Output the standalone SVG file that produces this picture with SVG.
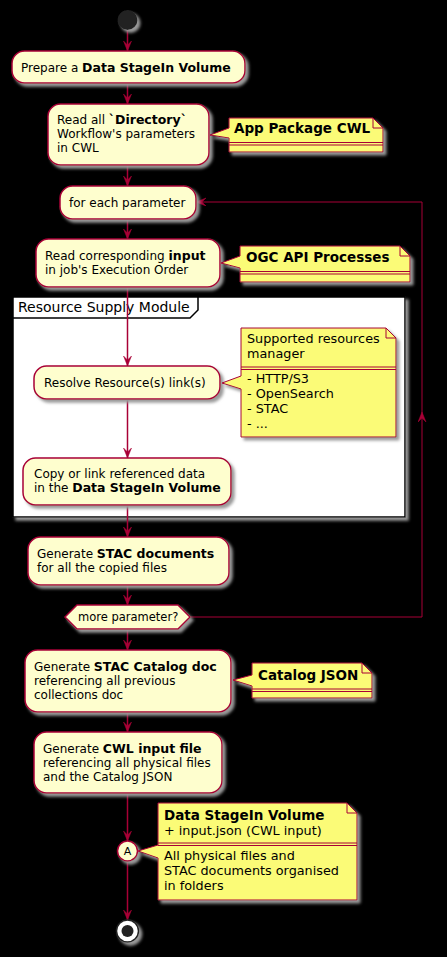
<svg xmlns="http://www.w3.org/2000/svg" width="447" height="957" viewBox="0 0 447 957">
<style>
text{font-family:"DejaVu Sans","Liberation Sans",sans-serif;font-size:12px;fill:#000}
.b{font-weight:bold;font-size:12.5px}
.nt{font-size:12.8px}
.nb{font-weight:bold;font-size:13.5px}
.act{fill:#FEFECE;stroke:#A80036;stroke-width:1.5}
.note{fill:#FBFB77;stroke:#A80036;stroke-width:1}
.nl{fill:none;stroke:#A80036;stroke-width:1}
.edge{fill:none;stroke:#A80036;stroke-width:1.5}
.loop{fill:none;stroke:#A80036;stroke-width:1}
</style>
<defs>
<filter id="sh" x="-20%" y="-20%" width="150%" height="150%">
<feGaussianBlur in="SourceAlpha" stdDeviation="1.5" result="b"/>
<feOffset in="b" dx="3" dy="3" result="o"/>
<feFlood flood-color="#9a9a9a"/>
<feComposite in2="o" operator="in" result="s"/>
<feMerge><feMergeNode in="s"/><feMergeNode in="SourceGraphic"/></feMerge>
</filter>
<marker id="ah" markerUnits="userSpaceOnUse" markerWidth="11" markerHeight="9" refX="10" refY="4" orient="auto">
<path d="M0,0 L10,4 L0,8 L4,4 Z" fill="#A80036" stroke="#A80036" stroke-width="0.5"/>
</marker>
</defs>
<rect x="0" y="0" width="447" height="957" fill="#000"/>

<g id="frame">
<rect x="13" y="297" width="392" height="220" fill="#fff" stroke="#000" stroke-width="1.5" filter="url(#sh)"/>
<path d="M13,318 L190,318 L198,310 L198,297" fill="none" stroke="#000" stroke-width="1.5"/>
<text x="18" y="312" style="font-size:14px">Resource Supply Module</text>
</g>

<g id="connectors">
<line class="edge" x1="127.5" y1="30" x2="127.5" y2="51" marker-end="url(#ah)"/>
<line class="edge" x1="127.5" y1="83" x2="127.5" y2="104" marker-end="url(#ah)"/>
<line class="edge" x1="127.5" y1="165" x2="127.5" y2="186" marker-end="url(#ah)"/>
<line class="edge" x1="127.5" y1="219" x2="127.5" y2="239" marker-end="url(#ah)"/>
<line class="edge" x1="127.5" y1="287" x2="127.5" y2="366" marker-end="url(#ah)"/>
<line class="edge" x1="127.5" y1="399" x2="127.5" y2="458" marker-end="url(#ah)"/>
<line class="edge" x1="127.5" y1="505" x2="127.5" y2="537" marker-end="url(#ah)"/>
<line class="edge" x1="127.5" y1="585" x2="127.5" y2="605" marker-end="url(#ah)"/>
<line class="edge" x1="127.5" y1="629" x2="127.5" y2="650" marker-end="url(#ah)"/>
<line class="edge" x1="127.5" y1="712" x2="127.5" y2="732" marker-end="url(#ah)"/>
<line class="edge" x1="127.5" y1="793" x2="127.5" y2="841" marker-end="url(#ah)"/>
<line class="edge" x1="127.5" y1="861" x2="127.5" y2="920" marker-end="url(#ah)"/>
<path class="loop" d="M190,617 L422,617 L422,412" marker-end="url(#ah)"/>
<path class="loop" d="M422,412 L422,202 L196,202" marker-end="url(#ah)"/>
</g>

<g id="start"><circle cx="127.5" cy="20" r="10" fill="#222" filter="url(#sh)"/></g>

<g id="prepare">
<rect class="act" x="12" y="51" width="233" height="32" rx="12.5" filter="url(#sh)"/>
<text x="21" y="72">Prepare a <tspan class="b">Data StageIn Volume</tspan></text>
</g>

<g id="readdir">
<rect class="act" x="48" y="104" width="161" height="61" rx="12.5" filter="url(#sh)"/>
<text x="57" y="124">Read all <tspan class="b">`Directory`</tspan></text>
<text x="57" y="138">Workflow's parameters</text>
<text x="57" y="152">in CWL</text>
</g>

<g id="note-cwl">
<path class="note" d="M229,118 L373,118 L383,128 L383,152 L229,152 L229,138 L210,135 L229,128 Z" filter="url(#sh)"/>
<path class="nl" d="M373,118 L373,128 L383,128"/>
<line class="nl" x1="229" y1="142.5" x2="383" y2="142.5"/>
<line class="nl" x1="229" y1="145" x2="383" y2="145"/>
<text class="nb" x="234" y="133">App Package CWL</text>
</g>

<g id="foreach">
<rect class="act" x="60" y="186" width="136" height="33" rx="12.5" filter="url(#sh)"/>
<text x="69" y="207">for each parameter</text>
</g>

<g id="readinput">
<rect class="act" x="36" y="239" width="184" height="48" rx="12.5" filter="url(#sh)"/>
<text x="45" y="260">Read corresponding <tspan class="b">input</tspan></text>
<text x="45" y="274">in job's Execution Order</text>
</g>

<g id="note-ogc">
<path class="note" d="M240,246 L400,246 L410,256 L410,282 L240,282 L240,268 L221,263 L240,256 Z" filter="url(#sh)"/>
<path class="nl" d="M400,246 L400,256 L410,256"/>
<line class="nl" x1="240" y1="271.5" x2="410" y2="271.5"/>
<line class="nl" x1="240" y1="274" x2="410" y2="274"/>
<text class="nb" x="246" y="262">OGC API Processes</text>
</g>

<g id="resolve">
<rect class="act" x="34" y="366" width="186" height="33" rx="12.5" filter="url(#sh)"/>
<text x="44" y="387">Resolve Resource(s) link(s)</text>
</g>

<g id="note-res">
<path class="note" d="M241,328 L386,328 L396,338 L396,437 L241,437 L241,389 L222,383 L241,376 Z" filter="url(#sh)"/>
<path class="nl" d="M386,328 L386,338 L396,338"/>
<line class="nl" x1="241" y1="367" x2="396" y2="367"/>
<line class="nl" x1="241" y1="369.5" x2="396" y2="369.5"/>
<text class="nt" x="247" y="343">Supported resources</text>
<text class="nt" x="247" y="358">manager</text>
<text class="nt" x="247" y="383">- HTTP/S3</text>
<text class="nt" x="247" y="398">- OpenSearch</text>
<text class="nt" x="247" y="413">- STAC</text>
<text class="nt" x="247" y="428">- ...</text>
</g>

<g id="copy">
<rect class="act" x="23" y="458" width="208" height="47" rx="12.5" filter="url(#sh)"/>
<text x="34" y="478">Copy or link referenced data</text>
<text x="34" y="492">in the <tspan class="b">Data StageIn Volume</tspan></text>
</g>

<g id="stacdocs">
<rect class="act" x="28" y="537" width="201" height="48" rx="12.5" filter="url(#sh)"/>
<text x="37" y="558">Generate <tspan class="b">STAC documents</tspan></text>
<text x="37" y="572">for all the copied files</text>
</g>

<g id="more">
<polygon class="act" points="65,617 77,605 178,605 190,617 178,629 77,629" filter="url(#sh)"/>
<text x="78" y="621" style="font-size:11.5px">more parameter?</text>
</g>

<g id="catalog">
<rect class="act" x="25" y="650" width="206" height="62" rx="12.5" filter="url(#sh)"/>
<text x="34" y="671">Generate <tspan class="b">STAC Catalog doc</tspan></text>
<text x="34" y="685">referencing all previous</text>
<text x="34" y="699">collections doc</text>
</g>

<g id="note-catalog">
<path class="note" d="M252,663 L362,663 L372,673 L372,698 L252,698 L252,686 L233,680 L252,675 Z" filter="url(#sh)"/>
<path class="nl" d="M362,663 L362,673 L372,673"/>
<line class="nl" x1="252" y1="689" x2="372" y2="689"/>
<line class="nl" x1="252" y1="691.5" x2="372" y2="691.5"/>
<text class="nb" x="258" y="680">Catalog JSON</text>
</g>

<g id="cwlinput">
<rect class="act" x="34" y="732" width="188" height="61" rx="12.5" filter="url(#sh)"/>
<text x="43" y="753">Generate <tspan class="b">CWL input file</tspan></text>
<text x="43" y="767">referencing all physical files</text>
<text x="43" y="781">and the Catalog JSON</text>
</g>

<g id="connA">
<circle class="act" cx="127.5" cy="851" r="10" filter="url(#sh)"/>
<text x="127.5" y="855" text-anchor="middle" style="font-size:11px">A</text>
</g>

<g id="note-volume">
<path class="note" d="M158,803 L347,803 L357,813 L357,900 L158,900 L158,858 L138,851 L158,845 Z" filter="url(#sh)"/>
<path class="nl" d="M347,803 L347,813 L357,813"/>
<line class="nl" x1="158" y1="843" x2="357" y2="843"/>
<line class="nl" x1="158" y1="845.5" x2="357" y2="845.5"/>
<text class="nb" x="164" y="820">Data StageIn Volume</text>
<text class="nt" x="164" y="835">+ input.json (CWL input)</text>
<text class="nt" x="164" y="860">All physical files and</text>
<text class="nt" x="164" y="875">STAC documents organised</text>
<text class="nt" x="164" y="890">in folders</text>
</g>

<g id="end">
<circle cx="127.5" cy="931" r="11" fill="#fff" stroke="#222" stroke-width="1.5" filter="url(#sh)"/>
<circle cx="127.5" cy="931" r="6" fill="#222"/>
</g>
</svg>
